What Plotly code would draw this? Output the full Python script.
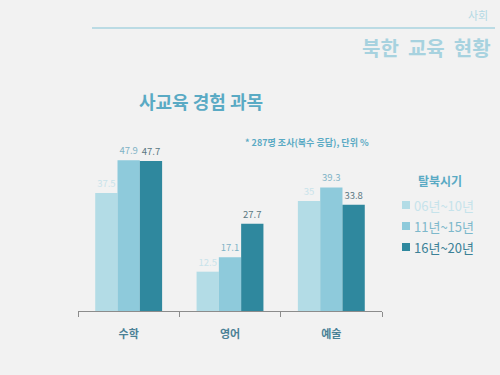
import plotly.graph_objects as go

categories = ["수학", "영어", "예술"]
series_names = ["06년~10년", "11년~15년", "16년~20년"]
v_0610 = [37.5, 12.5, 35]
v_1115 = [47.9, 17.1, 39.3]
v_1620 = [47.7, 27.7, 33.8]
values = [v_0610, v_1115, v_1620]
text_labels = [["37.5", "12.5", "35"], ["47.9", "17.1", "39.3"], ["47.7", "27.7", "33.8"]]

bar_colors = ["#b3dce6", "#8ecadb", "#2f889e"]
label_colors = ["#c9e3ea", "#7fb3c6", "#5b7883"]
legend_colors = ["#c6e3eb", "#7db8cb", "#3b8197"]

FONT = "Noto Sans CJK KR"

fig = go.Figure()
for name, vals, txt, bc, lc in zip(series_names, values, text_labels, bar_colors, label_colors):
    fig.add_trace(go.Bar(
        x=categories, y=vals, text=txt, textposition="outside",
        textfont=dict(color=lc, size=9.5, family=FONT),
        marker=dict(color=bc, line=dict(width=0)),
        cliponaxis=False, name=name, showlegend=False,
    ))

fig.update_layout(
    width=500, height=375,
    paper_bgcolor="#f2f2f2", plot_bgcolor="#f2f2f2",
    margin=dict(l=78, r=118, t=138, b=64),
    barmode="group", bargap=0.34, bargroupgap=0,
    font=dict(family=FONT),
    showlegend=False,
    xaxis=dict(
        showline=True, linecolor="#8c8c8c", linewidth=1,
        ticks="outside", tickson="boundaries", ticklen=5, tickcolor="#8c8c8c",
        tickfont=dict(size=11, color="#4a8196", family=FONT, weight="bold"),
        ticklabelstandoff=13,
        showgrid=False,
    ),
    yaxis=dict(range=[0, 55], visible=False, showgrid=False),
)

def ay(py):
    return (311 - py) / 173

def ax(px):
    return (px - 78) / 304

# header line
fig.add_shape(type="line", xref="paper", yref="paper",
              x0=ax(92), x1=ax(495), y0=ay(28), y1=ay(28),
              line=dict(color="#a9d3df", width=1.5))

fig.add_annotation(text="사회", xref="paper", yref="paper", x=ax(490), y=ay(15),
                   xanchor="right", yanchor="middle", showarrow=False,
                   font=dict(size=11, color="#b4d9e4", family=FONT))
fig.add_annotation(text="<b>북한&nbsp; 교육&nbsp; 현황</b>", xref="paper", yref="paper", x=ax(493), y=ay(48),
                   xanchor="right", yanchor="middle", showarrow=False,
                   font=dict(size=20, color="#a7d2df", family=FONT))
fig.add_annotation(text="<b>사교육 경험 과목</b>", xref="paper", yref="paper", x=ax(201), y=ay(101),
                   xanchor="center", yanchor="middle", showarrow=False,
                   font=dict(size=18, color="#5aaac4", family=FONT))
fig.add_annotation(text="<b>* 287명 조사(복수 응답), 단위 %</b>", xref="paper", yref="paper", x=ax(307), y=ay(142),
                   xanchor="center", yanchor="middle", showarrow=False,
                   font=dict(size=9, color="#5aaac4", family=FONT))

# legend
fig.add_annotation(text="<b>탈북시기</b>", xref="paper", yref="paper", x=ax(440), y=ay(180),
                   xanchor="center", yanchor="middle", showarrow=False,
                   font=dict(size=12, color="#5aaac4", family=FONT))
legend_rows = [205, 226, 247]
for name, bc, gc, ry in zip(series_names, bar_colors, legend_colors, legend_rows):
    fig.add_shape(type="rect", xref="paper", yref="paper",
                  x0=ax(402), x1=ax(410), y0=ay(ry + 4), y1=ay(ry - 4),
                  fillcolor=bc, line=dict(width=0))
    fig.add_annotation(text=name, xref="paper", yref="paper", x=ax(412), y=ay(ry),
                       xanchor="left", yanchor="middle", showarrow=False,
                       font=dict(size=13, color=gc, family=FONT))

fig.write_html("out.html", config={"displayModeBar": False},
               post_script="document.body.style.margin='0';")
